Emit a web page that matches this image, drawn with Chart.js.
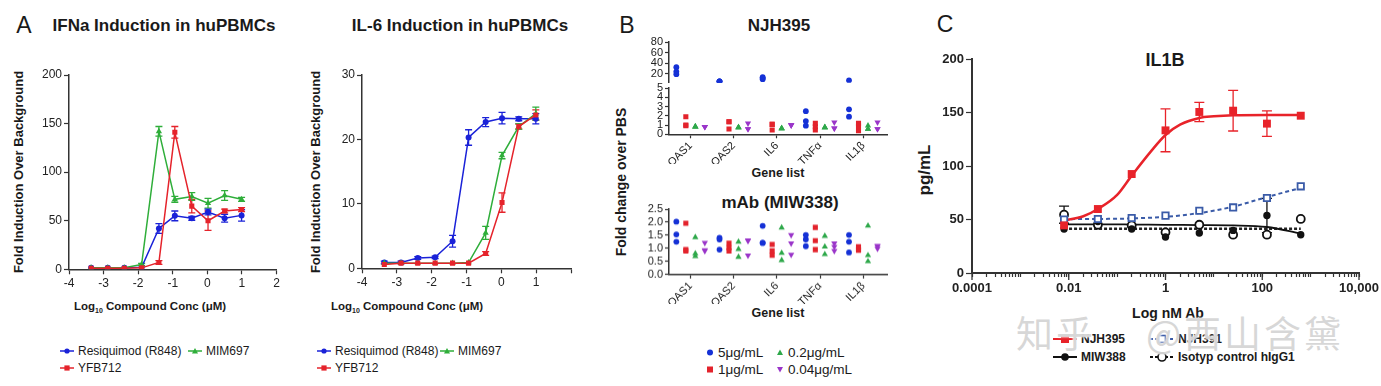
<!DOCTYPE html>
<html>
<head>
<meta charset="utf-8">
<script src="https://cdn.jsdelivr.net/npm/chart.js@4.4.1/dist/chart.umd.min.js"></script>
<style>
  body { margin: 0; background: #fff; }
  #page { position: relative; width: 1381px; height: 386px; overflow: hidden;
          font-family: "Liberation Sans", Arial, sans-serif; color: #1a1a1a; }
  .wrap { position: absolute; }
  .t { position: absolute; white-space: nowrap; transform: translate(-50%, -50%); }
  .r { transform: translate(-50%, -50%) rotate(-90deg); }
  .bold { font-weight: bold; }
  .leg { position: absolute; white-space: nowrap; transform: translateY(-50%); display: flex; align-items: center; }
  .leg svg { margin-right: 4px; }
  .wm { position: absolute; top: 305px; font-family: "Noto Sans CJK SC", sans-serif;
        font-size: 37px; letter-spacing: 3px; color: rgba(175,175,175,0.5); white-space: nowrap;
        text-shadow: 0 0 2px #fff, 0 0 2px #fff; pointer-events: none; }
</style>
</head>
<body>
<div id="page">
  <div class="t" style="left:24px;top:25px;font-size:23px;">A</div>
  <div class="t bold" style="left:164px;top:26px;font-size:17px;">IFNa Induction in huPBMCs</div>
  <div class="t bold" style="left:460px;top:26px;font-size:17px;">IL-6 Induction in huPBMCs</div>
  <div class="t bold r" style="left:18px;top:172px;font-size:13px;">Fold Induction Over Background</div>
  <div class="t bold r" style="left:315px;top:172px;font-size:13px;">Fold Induction Over Background</div>
  <div class="t bold" style="left:150px;top:307px;font-size:11.5px;">Log<sub style="font-size:7px">10</sub> Compound Conc (μM)</div>
  <div class="t bold" style="left:407px;top:307px;font-size:11.5px;">Log<sub style="font-size:7px">10</sub> Compound Conc (μM)</div>

  <div class="t" style="left:627px;top:25px;font-size:23px;">B</div>
  <div class="t bold" style="left:779px;top:26px;font-size:17px;">NJH395</div>
  <div class="t bold" style="left:778px;top:173px;font-size:12.5px;">Gene list</div>
  <div class="t bold" style="left:780px;top:203px;font-size:17px;">mAb (MIW338)</div>
  <div class="t bold" style="left:778px;top:313px;font-size:12.5px;">Gene list</div>
  <div class="t bold r" style="left:621px;top:182px;font-size:14px;">Fold change over PBS</div>

  <div class="t" style="left:945px;top:24px;font-size:23px;">C</div>
  <div class="t bold" style="left:1165px;top:60px;font-size:18px;">IL1B</div>
  <div class="t bold r" style="left:925px;top:170px;font-size:17px;">pg/mL</div>
  <div class="t bold" style="left:1168px;top:313px;font-size:14px;">Log nM Ab</div>

  <div class="wrap" id="wAL"><canvas id="cAL"></canvas></div>
  <div class="wrap" id="wAR"><canvas id="cAR"></canvas></div>
  <div class="wrap" id="wBU"><canvas id="cBU"></canvas></div>
  <div class="wrap" id="wBL"><canvas id="cBL"></canvas></div>
  <div class="wrap" id="wBM"><canvas id="cBM"></canvas></div>
  <div class="wrap" id="wC"><canvas id="cC"></canvas></div>
  <div id="legends"></div>
  <div class="wm" style="left:1016px;">知乎</div>
  <div class="wm" style="left:1146px;">@西山含黛</div>
</div>
<script>
'use strict';

// ---------------------------------------------------------------------------
// Data
// ---------------------------------------------------------------------------

// Panel A: log10 compound concentration (µM)
const aDoses = [-3.36, -2.88, -2.4, -1.9, -1.4, -0.94, -0.45, 0.02, 0.5, 0.99];

const ifnR848    = [1.5, 1.5, 1.5, 2, 42, 55, 52.5, 59, 52.5, 55.5];
const ifnR848Err = [0, 0, 0, 0, 5, 5, 2, 3, 4, 6];
const ifnYFB     = [1, 1, 1, 1.5, 7, 141, 65, 50, 60, 61.5];
const ifnYFBErr  = [0, 0, 0, 0, 2, 6, 7, 10, 2, 2];
const ifnMIM     = [1.5, 1.5, 1.5, 5, 142, 72, 75, 68, 76, 72];
const ifnMIMErr  = [0, 0, 0, 1, 5, 3, 4, 5, 5, 2];

const il6R848    = [0.9, 0.9, 1.6, 1.7, 4.2, 20.3, 22.7, 23.3, 23.2, 23.2];
const il6R848Err = [0.2, 0.2, 0.2, 0.2, 0.9, 1.2, 0.7, 0.9, 0.3, 0.8];
const il6YFB     = [0.6, 0.8, 0.8, 0.8, 0.8, 0.8, 2.3, 10.2, 22, 23.8];
const il6YFBErr  = [0, 0, 0, 0, 0, 0, 0.3, 1.5, 0.4, 0.8];
const il6MIM     = [0.8, 0.8, 0.8, 0.8, 0.8, 0.9, 5.5, 17.5, 22, 24.0];
const il6MIMErr  = [0, 0, 0, 0, 0, 0, 1, 0.5, 0.4, 1];

// Panel B: fold change over PBS, 3 donors per gene
const genes = ['OAS1', 'OAS2', 'IL6', 'TNFα', 'IL1β'];
const doseLabels = ['5μg/mL', '1μg/mL', '0.2μg/mL', '0.04μg/mL'];

const njh5   = [[32.4, 24.3, 19.4], [5.8, 5.8, 5.8], [13.8, 10, 12], [2.5, 1.43, 0.93], [7.6, 2.7, 1.9]];
const njh1   = [[1.9, 0.93, 1.0], [1.36, 1.36, 0.57], [1.07, 1.07, 0.46], [1.18, 0.46, 0.82], [1.18, 0.93, 0.4]];
const njh02  = [[0.82, 0.82, 0.82], [0.75, 0.75, 0.75], [0.64, 0.64, 0.64], [0.75, 0.75, 0.75], [0.93, 0.57, 0.57]];
const njh004 = [[0.82, 0.82, 0.8], [1.18, 0.57, 0.57], [1.0, 1.0, 1.0], [1.29, 0.64, 0.64], [1.29, 0.57, 0.57]];

const mab5   = [[2.02, 1.53, 1.25], [1.34, 1.4, 0.95], [1.86, 1.21, 1.21], [1.51, 1.34, 1.08], [1.51, 1.25, 0.84]];
const mab1   = [[1.96, 0.9, 0.95], [1.19, 1.02, 0.9], [1.15, 0.9, 0.73], [1.8, 1.29, 0.95], [0.95, 1.06, 0.93]];
const mab02  = [[1.42, 0.7, 0.8], [1.25, 0.97, 0.67], [1.79, 0.82, 0.54], [1.47, 1.06, 0.77], [1.86, 0.73, 0.5]];
const mab004 = [[1.21, 0.9, 0.93], [1.29, 1.31, 0.73], [1.51, 1.19, 0.76], [1.19, 1.06, 0.9], [0.99, 1.1, 1.08]];

// Panel C: IL1B pg/mL vs nM antibody
const cDoses   = [0.008, 0.04, 0.2, 1, 5, 25, 125, 625];
const njhVals  = [44.5, 59.8, 92.5, 133.3, 150.5, 151.7, 139.6, 147.0];
const njhErr   = [0, 0, 0, 20, 9, 19, 12, 0];
const fitDoses = [0.008, 0.02, 0.04, 0.1, 0.2, 0.5, 1, 2, 5, 10, 25, 125, 625];
const njhFit   = [49, 53, 59.8, 73, 91, 113.7, 129, 138.6, 144.9, 146.4, 147.4, 147.7, 147.7];
const ctlVals  = [50, 50.5, 51.4, 53.6, 58.2, 61.3, 70.1, 81];
const ctlFit   = [50.3, 50.5, 51, 52.5, 56, 62, 71, 79.5];
const miwVals  = [41.1, 48.2, 41.1, 33.6, 37.4, 39.8, 53.8, 35.8];
const miwErr   = [0, 0, 0, 0, 0, 0, 16, 0];
const miwFit   = [45.5, 45.5, 45.3, 45, 44.8, 44.5, 43, 37];
const isoVals  = [54.5, 45.1, 44.5, 38, 45.1, 35.8, 35.8, 50.5];
const isoErr   = [8, 0, 0, 0, 0, 0, 0, 0];
const isoFit   = [41.4, 41.4, 41.4, 41.4, 41.4, 41.4, 41.4, 41.4];
const cTickValues = [0.0001, 0.01, 1, 100, 10000];
const cTickLabels = ['0.0001', '0.01', '1', '100', '10,000'];

// ---------------------------------------------------------------------------
// Styles
// ---------------------------------------------------------------------------

const BLUE = '#1a22d8', RED = '#e5232b', GREEN = '#2fae3a';
const B_BLUE = '#1531d6', B_RED = '#e3232c', B_GREEN = '#2ea84a', B_PURPLE = '#9a35c9';
const C_RED = '#e8232a', C_BLUE = '#3a5ba8', BLACK = '#111';
const doseColors = [B_BLUE, B_RED, B_GREEN, B_PURPLE];
const doseShapes = ['circle', 'rect', 'triangle', 'triangle'];
const doseRot    = [0, 0, 0, 180];
const doseOffset = [-0.33, -0.11, 0.11, 0.33];

Chart.defaults.font.family = '"Liberation Sans", Arial, sans-serif';
Chart.defaults.color = '#222';
Chart.defaults.devicePixelRatio = 1;

// ---------------------------------------------------------------------------
// Helpers
// ---------------------------------------------------------------------------

const errorBars = {
  id: 'errorBars',
  beforeDatasetsDraw(chart) {
    const ctx = chart.ctx, xs = chart.scales.x, ys = chart.scales.y;
    chart.data.datasets.forEach(ds => {
      if (!ds.errors) return;
      ctx.save();
      ctx.strokeStyle = ds.errColor || ds.borderColor;
      ctx.lineWidth = 1.3;
      ds.data.forEach((p, j) => {
        const e = ds.errors[j];
        if (!e) return;
        const x = xs.getPixelForValue(p.x);
        const y1 = ys.getPixelForValue(p.y + e), y2 = ys.getPixelForValue(p.y - e);
        const c = ds.capW || 3.5;
        ctx.beginPath();
        ctx.moveTo(x, y1); ctx.lineTo(x, y2);
        ctx.moveTo(x - c, y1); ctx.lineTo(x + c, y1);
        ctx.moveTo(x - c, y2); ctx.lineTo(x + c, y2);
        ctx.stroke();
      });
      ctx.restore();
    });
  }
};

// position the canvas wrapper so the plot area lands on box
function mount(id, box, yW, xH, padR, padB) {
  const padT = 10;
  const w = document.getElementById(id);
  w.style.left = (box.l - yW) + 'px';
  w.style.top = (box.t - padT) + 'px';
  w.style.width = (box.r - box.l + yW + padR) + 'px';
  w.style.height = (box.b - box.t + padT + xH + padB) + 'px';
  return { padding: { top: padT, right: padR, left: 0, bottom: padB } };
}

function axis(o) {
  const shown = o.display !== false;
  return {
    type: o.type || 'linear',
    display: shown,
    min: o.min, max: o.max,
    border: { display: true, color: '#333', width: o.bw || 1.5 },
    grid: { display: true, drawOnChartArea: false, drawTicks: true, tickLength: o.tl || 5,
            color: '#333', tickWidth: 1.2 },
    ticks: Object.assign({ font: o.font, color: '#222', padding: 2, maxRotation: 0, autoSkip: false }, o.ticks || {}),
    afterFit: (shown && o.size != null) ? (s => { if (s.isHorizontal()) s.height = o.size; else s.width = o.size; }) : undefined,
    afterBuildTicks: o.tickVals ? (s => { s.ticks = o.tickVals.map(v => ({ value: v })); }) : undefined,
  };
}

function pts(xs, ys) { return xs.map((x, i) => ({ x, y: ys[i] })); }

function aSeries(label, vals, errs, color, shape) {
  return {
    label, data: pts(aDoses, vals), errors: errs, capW: 3.5,
    borderColor: color, backgroundColor: color, borderWidth: 1.5,
    pointStyle: shape, pointRadius: shape === 'circle' ? 3 : 3.6,
    pointBorderWidth: 0, tension: 0,
  };
}

function buildA(id, wrapId, box, vals, yMax, yStep, hideLast) {
  const layout = mount(wrapId, box, 40, 24, 12, 0);
  return new Chart(document.getElementById(id), {
    type: 'line',
    data: { datasets: [
      aSeries('YFB712', vals[1], vals[4], RED, 'rect'),
      aSeries('MIM697', vals[2], vals[5], GREEN, 'triangle'),
      aSeries('Resiquimod (R848)', vals[0], vals[3], BLUE, 'circle'),
    ] },
    options: {
      responsive: true, maintainAspectRatio: false, animation: false, layout,
      plugins: { legend: { display: false }, tooltip: { enabled: false } },
      scales: {
        x: axis({ min: -4, max: 2, size: 24, font: { size: 12 },
                  tickVals: [-4, -3, -2, -1, 0, 1, 2],
                  ticks: { callback: v => (hideLast && v === 2) ? '' : String(v) } }),
        y: axis({ min: 0, max: yMax, size: 40, font: { size: 12 },
                  ticks: { stepSize: yStep } }),
      },
    },
    plugins: [errorBars],
  });
}

function bDatasets(sets, keep) {
  const out = [];
  sets.forEach((set, d) => {
    const data = [];
    set.forEach((reps, g) => reps.forEach(v => { if (keep(v)) data.push({ x: g + 1 + doseOffset[d], y: v }); }));
    out.push({
      label: doseLabels[d], data, showLine: false,
      pointStyle: doseShapes[d], rotation: doseRot[d],
      pointRadius: doseShapes[d] === 'circle' ? 2.9 : 3.6,
      backgroundColor: doseColors[d], borderColor: doseColors[d], pointBorderWidth: 0,
    });
  });
  return out;
}

function buildB(id, wrapId, box, sets, keep, yOpt, showX) {
  const layout = mount(wrapId, box, 26, showX ? 30 : 0, 8, showX ? 0 : 8);
  return new Chart(document.getElementById(id), {
    type: 'scatter',
    data: { datasets: bDatasets(sets, keep) },
    options: {
      responsive: true, maintainAspectRatio: false, animation: false, layout,
      plugins: { legend: { display: false }, tooltip: { enabled: false } },
      scales: {
        x: axis({ display: showX, min: 0.5, max: 5.55, size: 30, font: { size: 11 }, tl: 4,
                  tickVals: [1, 2, 3, 4, 5],
                  ticks: { maxRotation: 45, minRotation: 45, padding: 1, callback: v => genes[v - 1] } }),
        y: axis(Object.assign({ size: 26, font: { size: 11 }, tl: 4 }, yOpt)),
      },
    },
  });
}

// ---------------------------------------------------------------------------
// Panel A
// ---------------------------------------------------------------------------

buildA('cAL', 'wAL', { l: 68.5, t: 75, r: 276, b: 269.3 },
  [ifnR848, ifnYFB, ifnMIM, ifnR848Err, ifnYFBErr, ifnMIMErr], 200, 50, false);
buildA('cAR', 'wAR', { l: 362, t: 75, r: 571, b: 268.3 },
  [il6R848, il6YFB, il6MIM, il6R848Err, il6YFBErr, il6MIMErr], 30, 10, true);

// ---------------------------------------------------------------------------
// Panel B (broken axis on the NJH395 plot: two stacked charts)
// ---------------------------------------------------------------------------

const njhSets = [njh5, njh1, njh02, njh004];
buildB('cBU', 'wBU', { l: 669, t: 41.7, r: 887, b: 83 }, njhSets, v => v > 5,
  { min: 3.3, max: 80, tickVals: [20, 40, 60, 80] }, false);
buildB('cBL', 'wBL', { l: 669, t: 88, r: 887, b: 134.3 }, njhSets, v => v <= 5,
  { min: 0, max: 5, tickVals: [0, 1, 2, 3, 4, 5] }, true);
buildB('cBM', 'wBM', { l: 669, t: 209.3, r: 887, b: 274 }, [mab5, mab1, mab02, mab004], () => true,
  { min: 0, max: 2.5, tickVals: [0, 0.5, 1, 1.5, 2, 2.5], ticks: { callback: v => v.toFixed(1) } }, true);

// ---------------------------------------------------------------------------
// Panel C
// ---------------------------------------------------------------------------

const cTicks = [];
for (let e = -4; e < 4; e++) for (let m = 1; m < 10; m++) cTicks.push(m * Math.pow(10, e));
cTicks.push(10000);
const isMajor = v => cTickValues.findIndex(t => Math.abs(t - v) / t < 1e-6);

const majorTicks = {
  id: 'majorTicks',
  afterDraw(chart) {
    const ctx = chart.ctx, xs = chart.scales.x;
    ctx.save();
    ctx.strokeStyle = '#333';
    ctx.lineWidth = 1.3;
    cTickValues.forEach(v => {
      const x = xs.getPixelForValue(v);
      ctx.beginPath(); ctx.moveTo(x, xs.top); ctx.lineTo(x, xs.top + 7); ctx.stroke();
    });
    ctx.restore();
  }
};

(function buildC() {
  const layout = mount('wC', { l: 972.3, t: 59.3, r: 1359.3, b: 273.3 }, 45, 24, 30, 0);
  const fitLine = (label, xs, ys, color, dash, width) => ({
    label, data: pts(xs, ys), borderColor: color, borderWidth: width, borderDash: dash,
    pointRadius: 0, cubicInterpolationMode: 'monotone', fill: false, order: 5,
  });
  const marks = (label, ys, errs, color, shape, open, r) => ({
    label, data: pts(cDoses, ys), errors: errs, capW: 5, errColor: color, showLine: false,
    pointStyle: shape, pointRadius: r, borderColor: color,
    backgroundColor: open ? '#fff' : color, pointBorderWidth: open ? 1.8 : 0, order: 1,
  });
  new Chart(document.getElementById('cC'), {
    type: 'line',
    data: { datasets: [
      marks('NJH395', njhVals, njhErr, C_RED, 'rect', false, 5.6),
      marks('NJH391', ctlVals, null, C_BLUE, 'rect', true, 4.5),
      marks('MIW388', miwVals, miwErr, BLACK, 'circle', false, 3.7),
      marks('Isotyp control hIgG1', isoVals, isoErr, BLACK, 'circle', true, 4),
      fitLine('NJH395 fit', fitDoses, njhFit, C_RED, [], 2.5),
      fitLine('NJH391 fit', cDoses, ctlFit, C_BLUE, [4, 3], 2),
      fitLine('MIW388 fit', cDoses, miwFit, BLACK, [], 1.8),
      fitLine('Isotype fit', cDoses, isoFit, '#222', [3, 2], 2.4),
    ] },
    options: {
      responsive: true, maintainAspectRatio: false, animation: false, layout,
      plugins: { legend: { display: false }, tooltip: { enabled: false } },
      scales: {
        x: axis({ type: 'logarithmic', min: 0.0001, max: 10000, size: 24, tl: 4, bw: 2,
                  font: { size: 13, weight: 'bold' }, tickVals: cTicks,
                  ticks: { padding: 4, callback: v => { const k = isMajor(v); return k >= 0 ? cTickLabels[k] : ''; } } }),
        y: axis({ min: 0, max: 200, size: 45, tl: 6, bw: 2, font: { size: 13, weight: 'bold' },
                  ticks: { stepSize: 50 } }),
      },
    },
    plugins: [errorBars, majorTicks],
  });
})();

// ---------------------------------------------------------------------------
// Legends (HTML, real text)
// ---------------------------------------------------------------------------

function icon(shape, color, opts) {
  const o = Object.assign({ w: 14, line: true, dash: '', open: false, r: 3, lw: 1.5 }, opts);
  const c = o.w / 2, cy = 6;
  let s = `<svg width="${o.w}" height="12">`;
  if (o.line) s += `<line x1="0" y1="${cy}" x2="${o.w}" y2="${cy}" stroke="${color}" stroke-width="${o.lw}" ${o.dash ? `stroke-dasharray="${o.dash}"` : ''}/>`;
  const fill = o.open ? '#fff' : color;
  const sw = o.open ? 1.6 : 0;
  if (shape === 'circle') s += `<circle cx="${c}" cy="${cy}" r="${o.r}" fill="${fill}" stroke="${color}" stroke-width="${sw}"/>`;
  if (shape === 'rect') s += `<rect x="${c - o.r}" y="${cy - o.r}" width="${2 * o.r}" height="${2 * o.r}" fill="${fill}" stroke="${color}" stroke-width="${sw}"/>`;
  if (shape === 'tri') s += `<polygon points="${c},${cy - o.r} ${c + o.r},${cy + o.r * 0.8} ${c - o.r},${cy + o.r * 0.8}" fill="${fill}"/>`;
  if (shape === 'dtri') s += `<polygon points="${c},${cy + o.r} ${c + o.r},${cy - o.r * 0.8} ${c - o.r},${cy - o.r * 0.8}" fill="${fill}"/>`;
  return s + '</svg>';
}

function legend(x, y, svg, text, css) {
  const d = document.createElement('div');
  d.className = 'leg';
  d.style.left = x + 'px';
  d.style.top = y + 'px';
  d.style.cssText += css;
  d.innerHTML = svg + '<span>' + text + '</span>';
  document.getElementById('legends').appendChild(d);
}

const aFont = 'font-size:12px;';
[60, 317].forEach(x0 => {
  legend(x0, 351, icon('circle', BLUE, { r: 2.6 }), 'Resiquimod (R848)', aFont);
  legend(x0 + (x0 === 60 ? 128 : 123), 351, icon('tri', GREEN, { r: 3 }), 'MIM697', aFont);
  legend(x0, 368, icon('rect', RED, { r: 2.6 }), 'YFB712', aFont);
});

const bFont = 'font-size:13.5px;';
legend(706, 352, icon('circle', B_BLUE, { line: false, w: 8, r: 3 }), doseLabels[0], bFont);
legend(776, 352, icon('tri', B_GREEN, { line: false, w: 8, r: 3 }), doseLabels[2], bFont);
legend(706, 369, icon('rect', B_RED, { line: false, w: 8, r: 3 }), doseLabels[1], bFont);
legend(776, 369, icon('dtri', B_PURPLE, { line: false, w: 8, r: 3 }), doseLabels[3], bFont);

const cFont = 'font-size:12px;font-weight:bold;';
legend(1053, 339, icon('rect', C_RED, { w: 24, r: 4, lw: 2 }), 'NJH395', cFont);
legend(1150, 339, icon('rect', C_BLUE, { w: 24, r: 3.5, lw: 2, open: true, dash: '3,2' }), 'NJH391', cFont);
legend(1053, 357, icon('circle', BLACK, { w: 24, r: 3.8, lw: 2 }), 'MIW388', cFont);
legend(1150, 357, icon('circle', BLACK, { w: 24, r: 4, lw: 2, open: true, dash: '3,2' }), 'Isotyp control hIgG1', cFont);
</script>
</body>
</html>
